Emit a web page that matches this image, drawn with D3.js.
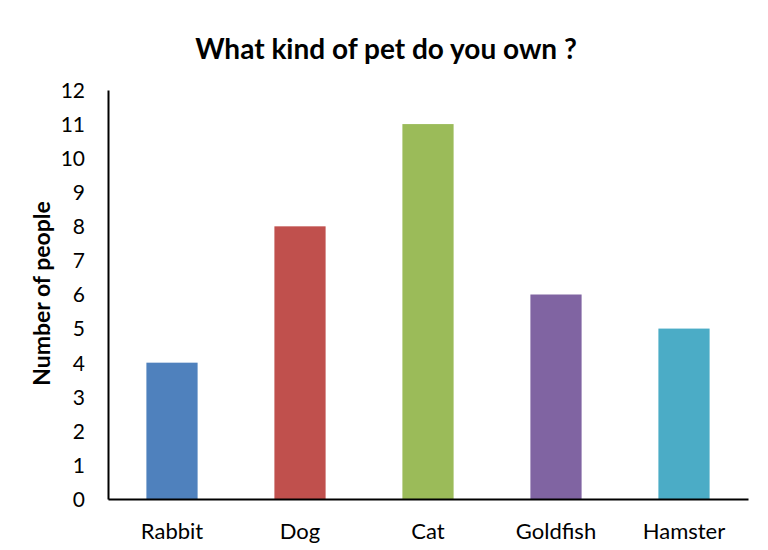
<!DOCTYPE html>
<html>
<head>
<meta charset="utf-8">
<script src="https://cdn.jsdelivr.net/npm/d3@7"></script>
<style>
  body { margin: 0; background: #fff; }
  text { font-family: Lato, "Open Sans", sans-serif; fill: #000; }
</style>
</head>
<body>
<div id="chart"></div>
<script>
// valeurs
const pets = ['Rabbit', 'Dog', 'Cat', 'Goldfish', 'Hamster'];
const owners = [4, 8, 11, 6, 5];
const barColors = ['#4F81BD', '#C0504D', '#9BBB59', '#8064A2', '#4BACC6'];
const yTicks = [0, 1, 2, 3, 4, 5, 6, 7, 8, 9, 10, 11, 12];

const width = 768;
const height = 550;
const margin = { top: 90, right: 20, bottom: 51, left: 108 };

const svg = d3.select('#chart')
    .append('svg')
    .attr('width', width)
    .attr('height', height);

const x = d3.scaleBand()
    .domain(pets)
    .range([margin.left, width - margin.right])
    .paddingInner(0.6)
    .paddingOuter(0.3);

const y = d3.scaleLinear()
    .domain([0, 12])
    .range([height - margin.bottom, margin.top]);

// Titre
svg.append('text')
    .attr('x', 386)
    .attr('y', 59)
    .attr('text-anchor', 'middle')
    .style('font-size', '28px')
    .style('font-weight', '700')
    .text('What kind of pet do you own ?');

// Barres
svg.selectAll('.bar')
    .data(pets)
    .enter()
    .append('rect')
    .attr('class', 'bar')
    .attr('x', d => x(d))
    .attr('width', x.bandwidth())
    .attr('y', (d, i) => y(owners[i]))
    .attr('height', (d, i) => y(0) - y(owners[i]))
    .attr('fill', (d, i) => barColors[i]);

// Axe Y
const yAxis = svg.append('g')
    .attr('transform', `translate(${margin.left},0)`)
    .call(d3.axisLeft(y).tickValues(yTicks).tickSize(0).tickPadding(23));
yAxis.select('.domain').attr('stroke', '#000').attr('stroke-width', 2);
yAxis.selectAll('text').style('font-size', '21px').attr('dy', '0.35em');

// Axe X
const xAxis = svg.append('g')
    .attr('transform', `translate(0,${height - margin.bottom})`)
    .call(d3.axisBottom(x).tickSize(0).tickPadding(24));
xAxis.select('.domain').attr('stroke', '#000').attr('stroke-width', 2);
xAxis.selectAll('text').style('font-size', '22px');

// Titre axe Y
svg.append('text')
    .attr('transform', `translate(50, ${y(6) - 1}) rotate(-90)`)
    .attr('text-anchor', 'middle')
    .style('font-size', '23px')
    .style('font-weight', '700')
    .text('Number of people');
</script>
</body>
</html>
